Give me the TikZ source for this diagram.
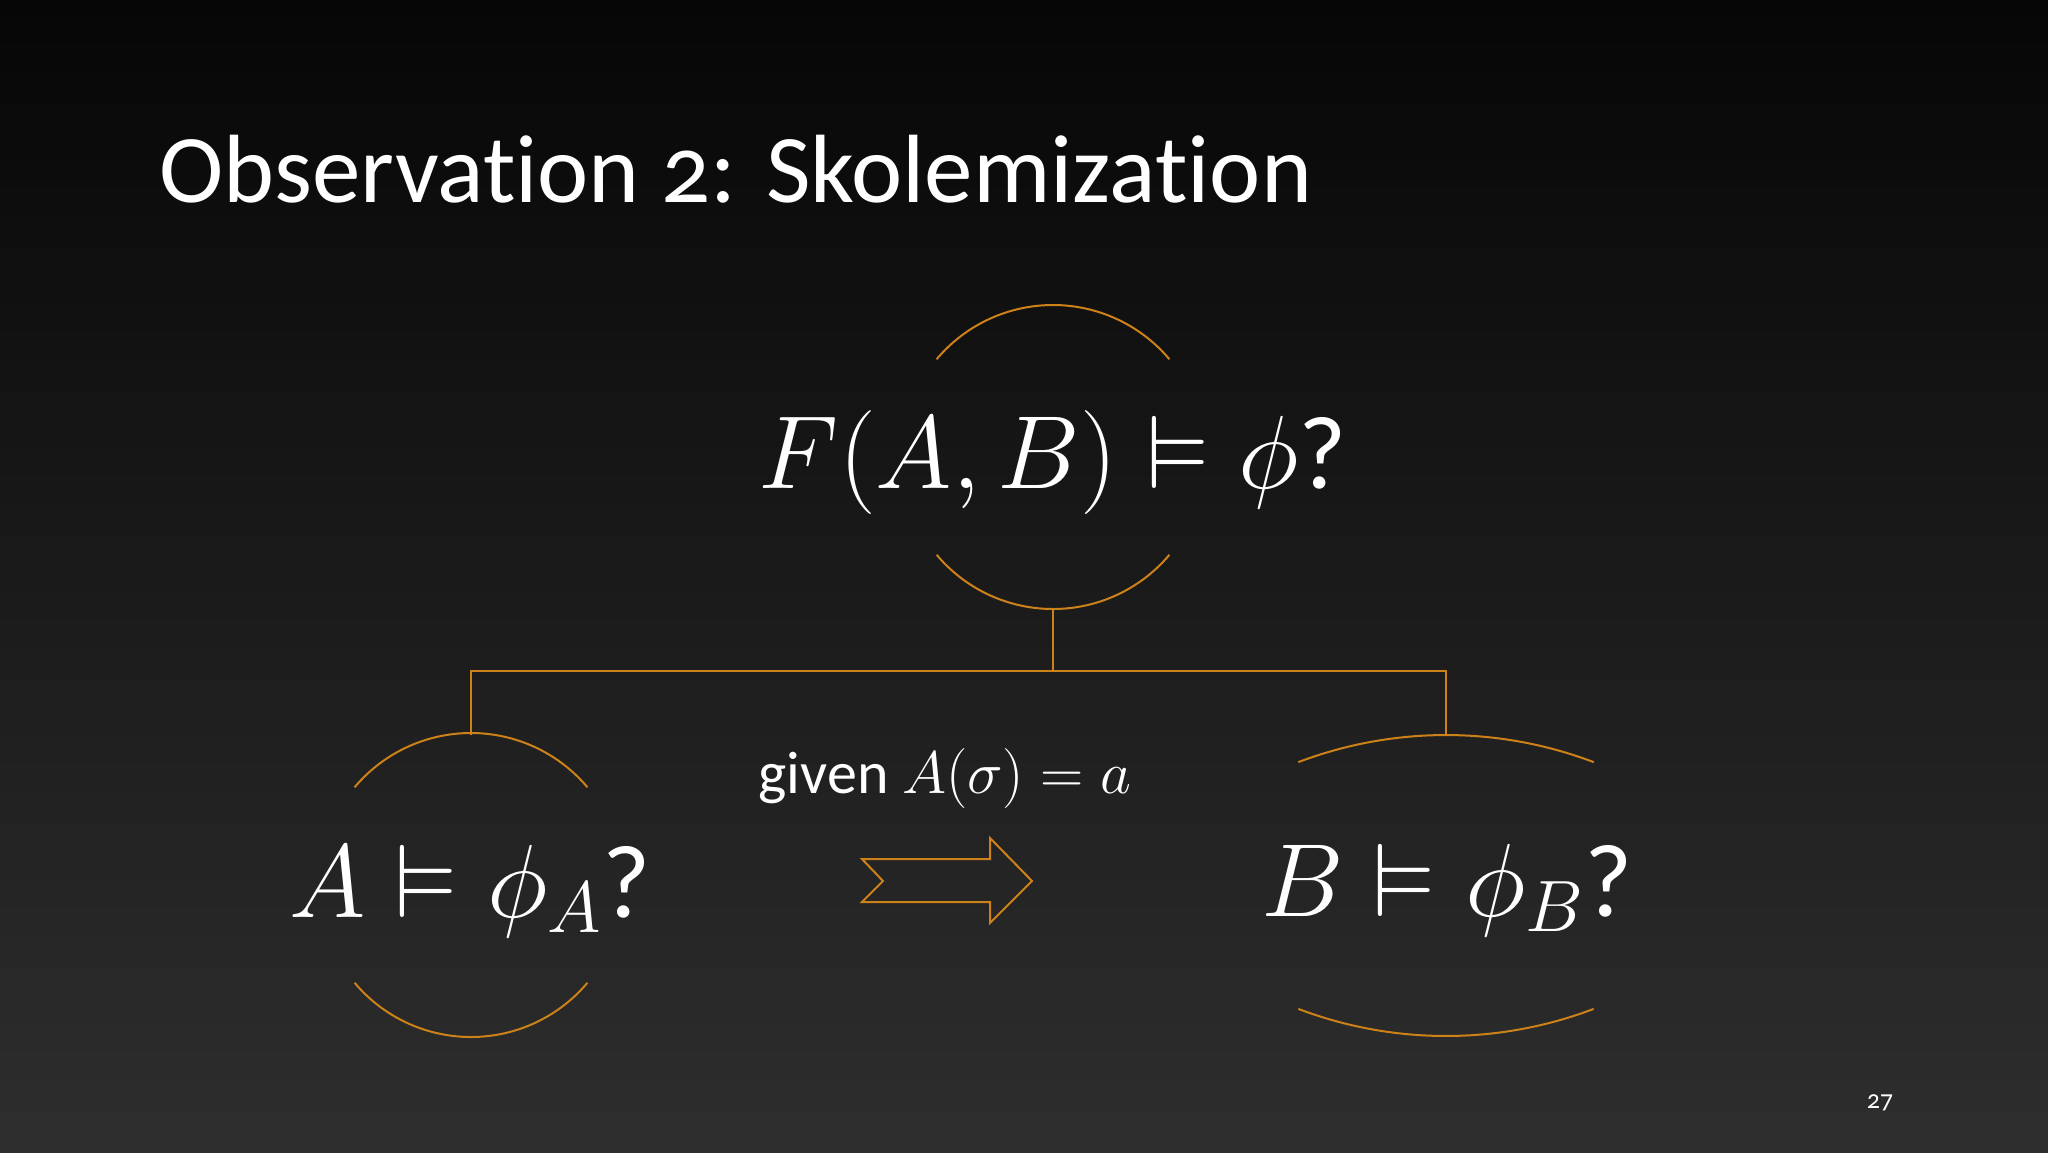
\RequirePackage{fix-cm}
\documentclass[tikz,border=0pt]{standalone}
\usepackage{amssymb}
\usepackage{fontspec}
\setmainfont{Carlito}[Numbers=OldStyle, Ligatures=CommonOff]
\usetikzlibrary{calc}
\definecolor{accent}{RGB}{205,130,25}
\definecolor{bgtop}{RGB}{6,6,6}
\definecolor{bgbot}{RGB}{46,46,46}
\begin{document}
\begin{tikzpicture}[x=0.5pt,y=-0.5pt,
  arcline/.style={draw=accent, line width=1pt},
  conn/.style={draw=accent, line width=1pt},
  bigmath/.style={text=white, inner sep=0pt, anchor=base, font=\fontsize{52}{60}\selectfont},
  titletext/.style={text=white, inner sep=0pt, anchor=base west, font=\fontsize{48.5}{56}\selectfont},
  smalltext/.style={text=white, inner sep=0pt, anchor=base, font=\fontsize{30}{34}\selectfont},
  pagenum/.style={text=white, inner sep=0pt, anchor=base, font=\fontsize{13}{15}\selectfont}]
\useasboundingbox (0,0) rectangle (2048,1152);
\shade[top color=bgtop, bottom color=bgbot] (0,0) rectangle (2048,1152);

% title
\node[titletext] (title) at (159,202) {Observation 2: Skolemization};

% centres of the arc groups
\coordinate (ctop) at (1053,457);
\coordinate (cleft) at (471,885);
\coordinate (crightT) at (1446,1151);
\coordinate (crightB) at (1446,620);

% top group
\draw[arcline] ([shift={(40:76pt)}]ctop) arc[start angle=40,end angle=140,radius=76pt];
\draw[arcline] ([shift={(220:76pt)}]ctop) arc[start angle=220,end angle=320,radius=76pt];
\node[bigmath] (ftop) at (1053,488) {$F(A,B)\mathrel{\vDash}\phi$?};

% left group
\draw[arcline] ([shift={(40:76pt)}]cleft) arc[start angle=40,end angle=140,radius=76pt];
\draw[arcline] ([shift={(220:76pt)}]cleft) arc[start angle=220,end angle=320,radius=76pt];
\node[bigmath] (fleft) at (470,917) {$A\mathrel{\vDash}\phi_A$?};

% right group
\draw[arcline] ([shift={(69.2:208pt)}]crightT) arc[start angle=69.2,end angle=110.8,radius=208pt];
\draw[arcline] ([shift={(249.2:208pt)}]crightB) arc[start angle=249.2,end angle=290.8,radius=208pt];
\node[bigmath] (fright) at (1447,916) {$B\mathrel{\vDash}\phi_B$?};

% connectors
\coordinate (topb) at (1053,608);
\coordinate (leftt) at (471,735);
\coordinate (rightt) at (1446,735);
\draw[conn] (topb) -- ++(0,63) -| (leftt);
\draw[conn] (topb) -- ++(0,63) -| (rightt);

% given label
\node[smalltext] (given) at (945,793) {given $A(\sigma)=a$};

% notched arrow
\draw[accent, line width=1pt, line join=miter]
  (862,859) -- (990,859) -- (990,838) -- (1032,881) -- (990,923) -- (990,902) -- (862,902) -- (883,881) -- cycle;

% page number
\node[pagenum] (pnum) at (1880,1108) {27};
\end{tikzpicture}
\end{document}
